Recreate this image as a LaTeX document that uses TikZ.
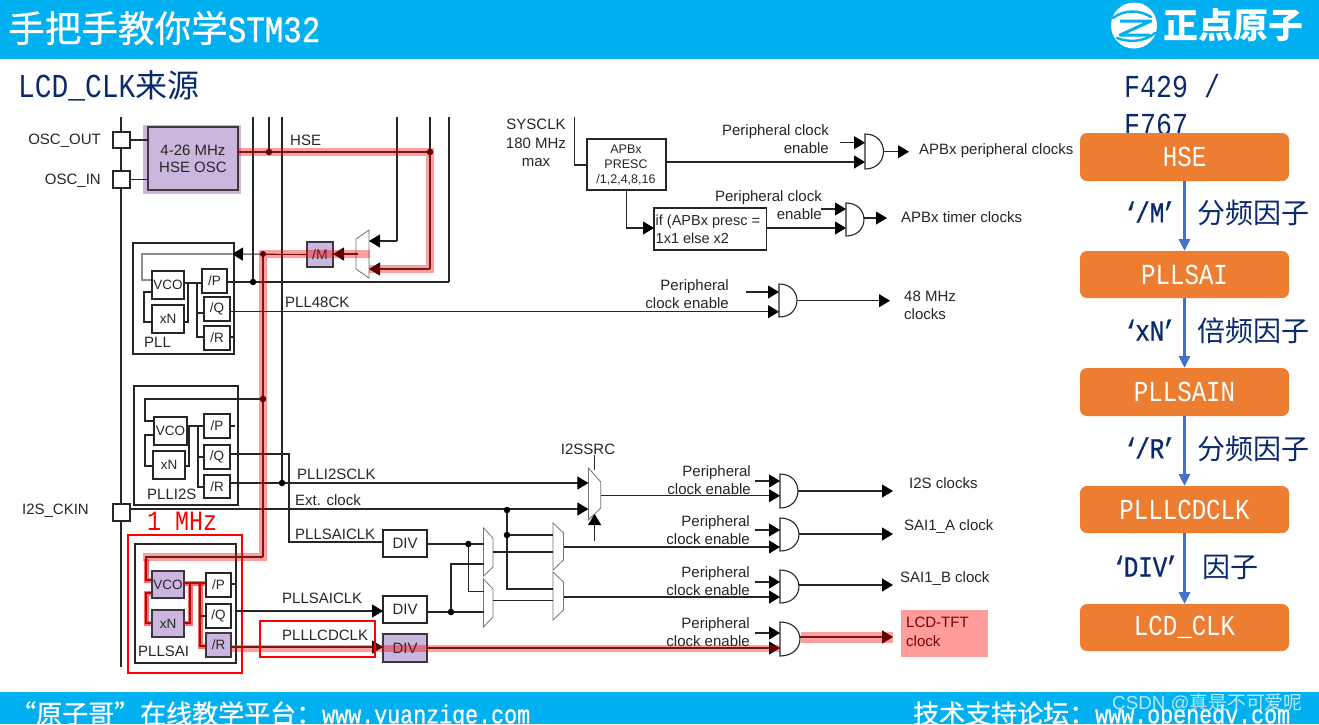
\documentclass[tikz,border=0pt]{standalone}
\usepackage{fontspec}
\usetikzlibrary{arrows.meta,calc}
\setmainfont{Liberation Sans}
\newfontfamily\cjk{Noto Sans CJK SC}
\newfontfamily\cjkm[FakeBold=0.7]{Noto Sans CJK SC}
\newfontfamily\mono[FakeStretch=0.833]{Liberation Mono}
\newfontfamily\monom[FakeStretch=0.833,FakeBold=0.8]{Liberation Mono}
\newcommand\fsz[1]{\fontsize{#1}{#1}\selectfont}
\definecolor{bar}{HTML}{00B0F0}
\definecolor{navy}{HTML}{0B2A6B}
\definecolor{ink}{HTML}{262626}
\definecolor{purp}{HTML}{CBB6DD}
\definecolor{orng}{HTML}{ED7D31}
\definecolor{flow}{HTML}{4472C4}
\definecolor{pink}{HTML}{FF9C9C}
\tikzset{
  x=1pt,y=-1pt,
  conn/.style={draw=ink,line width=1.1pt},
  arr/.style={conn,-{Triangle[length=11pt,width=13pt,color=black]}},
  pale/.style={draw=black!45,line width=1.1pt},
  rbox/.style={draw=ink,line width=1.1pt,fill=white,inner sep=0pt,outer sep=0pt,text=ink,font=\fsz{15},align=center},
  pbox/.style={rbox,fill=purp,draw=black!70!purp},
  pin/.style={rbox},
  lbl/.style={inner sep=0pt,text=ink,font=\fsz{15},anchor=west,align=left},
  rlbl/.style={inner sep=0pt,text=ink,font=\fontsize{15}{18}\selectfont,anchor=east,align=right},
  dot/.style={circle,fill=black,inner sep=0pt,minimum size=6.5pt},
  halo/.style={draw=red,opacity=.38,line width=8pt,line join=miter},
  halos/.style={draw=red,opacity=.58,line width=5pt,line join=miter},
  redbox/.style={draw=red,line width=1.6pt,fill=none,inner sep=0pt,outer sep=0pt},
  step box/.style={fill=orng,rounded corners=7pt,inner sep=0pt,outer sep=0pt,text=white,font=\mono\fsz{29}},
  flowarr/.style={draw=flow,line width=3pt,-{Triangle[length=12pt,width=11pt]}},
  fact/.style={inner sep=0pt,text=navy,font=\monom\fsz{29},anchor=east},
  factc/.style={inner sep=0pt,text=navy,font=\cjk\fsz{28},anchor=west},
}
% box by corners
\newcommand\bx[7][rbox]{\node[#1,minimum width={(#5-#3)*1pt},minimum height={(#6-#4)*1pt}] (#2) at ({(#3+#5)/2},{(#4+#6)/2}) {#7};}
% AND gate: name, x, top, bottom, width; defines name-w (left edge, mid)
\newcommand\gate[5]{\draw[conn,fill=white] (#2,#3) .. controls ({#2+1.33*#5},#3) and ({#2+1.33*#5},#4) .. (#2,#4) -- cycle;
  \coordinate (#1w) at (#2,{(#3+#4)/2});\coordinate (#1e) at ({#2+#5},{(#3+#4)/2});}
% mux trapezoid: name, x1, x2, y1, y2, y3, y4
\newcommand\mux[7]{\draw[draw=black!55,line width=.8pt,fill=white] (#2,#4) -- (#3,#5) -- (#3,#6) -- (#2,#7) -- cycle;
  \coordinate (#1w) at (#2,{(#4+#7)/2});\coordinate (#1e) at (#3,{(#4+#7)/2});}
\begin{document}
\begin{tikzpicture}
\useasboundingbox (0,0) rectangle (1319,724);
\clip (0,0) rectangle (1319,724);
\fill[white] (0,0) rectangle (1319,724);
% header / footer
\fill[bar] (0,0) rectangle (1319,59);
\fill[bar] (0,692) rectangle (1319,724);
\node[inner sep=0pt,anchor=west,text=white] (title) at (8,28) {{\cjkm\fsz{36.6}手把手教你学}{\monom\fsz{37}STM32}};
\node[inner sep=0pt,anchor=west,text=navy] (sub) at (18,86) {{\mono\fsz{33.5}LCD\_CLK}{\cjk\fsz{32}来源}};
\node[inner sep=0pt,anchor=west,text=white,font=\bfseries\fsz{35}] (brand) at (1163,25) {\cjk 正点原子};
\fill[white] (1134,25.5) circle (23);
\draw[bar,line width=2.4pt,line cap=round] (1113,18) .. controls (1125,9) and (1140,10) .. (1151,17);
\draw[bar,line width=3pt,line join=round] (1120,21) -- (1151,21) -- (1120,35) -- (1150,35);
\draw[bar,line width=2.4pt,line cap=round] (1117,38) .. controls (1127,42) and (1143,43) .. (1155,33);
\node[inner sep=0pt,anchor=west,text=white,font=\fsz{26}] (footl) at (10,715) {{\cjkm “原子哥”在线教学平台：}{\monom www.yuanzige.com}};
\node[inner sep=0pt,anchor=west,text=white,font=\fsz{26}] (footr) at (913,715) {{\cjkm 技术支持论坛：}{\monom www.openedv.com}};
\node[inner sep=0pt,anchor=west,text=white!72!bar,font=\fsz{18.8}] (mark) at (1112,703) {CSDN @{\cjk 真是不可爱呢}};

% right column
\node[inner sep=0pt,anchor=west,text=navy,font=\mono\fsz{32}] (f1) at (1124,86) {F429 /};
\node[inner sep=0pt,anchor=west,text=navy,font=\mono\fsz{32}] (f2) at (1124,125) {F767};
\bx[step box]{s1}{1080}{133}{1289}{181}{HSE}
\bx[step box]{s2}{1080}{251}{1289}{298}{PLLSAI}
\bx[step box]{s3}{1080}{368}{1289}{416}{PLLSAIN}
\bx[step box]{s4}{1080}{486}{1289}{533}{PLLLCDCLK}
\bx[step box]{s5}{1080}{604}{1289}{651}{LCD\_CLK}
\draw[flowarr] (s1) -- (s2);
\draw[flowarr] (s2) -- (s3);
\draw[flowarr] (s3) -- (s4);
\draw[flowarr] (s4) -- (s5);
\node[fact] (t1) at (1176,212) {‘\kern-3pt/M\kern-3pt’};
\node[factc] (c1) at (1197,213) {分频因子};
\node[fact] (t2) at (1176,330) {‘\kern-3pt xN\kern-3pt’};
\node[factc] (c2) at (1197,331) {倍频因子};
\node[fact] (t3) at (1176,448) {‘\kern-3pt/R\kern-3pt’};
\node[factc] (c3) at (1197,449) {分频因子};
\node[fact] (t4) at (1179,566) {‘\kern-3pt DIV\kern-3pt’};
\node[factc] (c4) at (1202,567) {因子};

% --- left bus, pins
\coordinate (bustop) at (121,117);
\coordinate (busend) at (121,667);
\draw[conn] (bustop) -- (busend);
\bx[pin]{oscout}{113}{132}{130}{148}{}
\bx[pin]{oscin}{113}{171}{130}{188}{}
\bx[pin]{ickin}{113}{504}{130}{521}{}
\node[lbl,anchor=east] (loscout) at (101,141) {OSC\_OUT};
\node[lbl,anchor=east] (loscin) at (101,180.5) {OSC\_IN};
\node[lbl,anchor=east] (lickin) at (89,511) {I2S\_CKIN};

% top vertical lines
\coordinate (v1t) at (253,117); \coordinate (jP) at (253,282);
\coordinate (v2t) at (269,117); \coordinate (jH) at (269,152);
\coordinate (v3t) at (282,117); \coordinate (jI) at (282,483);
\coordinate (v4t) at (397,117); \coordinate (v4b) at (397,241);
\coordinate (v5t) at (430,117); \coordinate (v5b) at (430,269); \coordinate (jE) at (430,152);
\coordinate (v6t) at (449,117); \coordinate (v6b) at (449,282);
\draw[conn] (v1t) -- (jP);
\draw[conn] (v2t) -- (jH);
\draw[conn] (v3t) -- (jI);
\draw[conn] (v4t) -- (v4b);
\draw[conn] (v5t) -- (v5b);
\draw[conn] (v6t) -- (v6b);

% HSE
\fill[purp] (143,125) rectangle (241,194);
\bx[pbox]{hse}{148}{127}{238}{190}{4-26 MHz\\[2pt]HSE OSC}
\draw[conn] (oscout) -- (oscout -| hse.west);
\draw[conn] (oscin) -- (oscin -| hse.west);
\draw[conn] (hse.east |- jE) -- (jE);
\node[lbl] (lhse) at (290,140) {HSE};
\node[dot] at (jH) {};
\node[dot] at (jE) {};

% mux M
\mux{mm}{356}{369}{239}{230}{278}{269}
\draw[arr] (v4b) -- (369,241);
\draw[arr] (v5b) -- (369,269);
\bx[pbox]{divm}{307}{242}{333}{267}{\fsz{14}/M}
\coordinate (mout) at (358,254);
\draw[arr] (mout) -- (divm.east |- mout);
\coordinate (jM) at (263,254);
\coordinate (jM2) at (263,399);
\coordinate (jM3) at (263,557);
\draw[conn] (jM) -- (jM3);

% PLL
\bx[rbox]{pll}{133}{243}{234}{354}{}
\coordinate (pf1) at (142,254);\coordinate (pf2) at (142,280);
\draw[arr] (divm.west) -- (232,254);
\draw[pale] (232,254) -- (pf1) -- (pf2) -- (152,280);
\bx[rbox]{vcoa}{152}{271}{184}{299}{\fsz{13.5}VCO}
\bx[rbox]{xna}{152}{305}{184}{333}{\fsz{13.5}xN}
\bx[rbox]{pa}{202}{269}{227}{293}{\fsz{13.5}/P}
\bx[rbox]{qa}{204}{297}{230}{321}{\fsz{13.5}/Q}
\bx[rbox]{ra}{204}{326}{230}{350}{\fsz{13.5}/R}
\draw[conn] (vcoa.west |- 0,292) -| (144,322) -- (xna.west |- 0,322);
\draw[conn] (vcoa.east |- 0,283) -- (pa.west |- 0,283);
\draw[conn] (188,283) |- (xna.east |- 0,322);
\draw[conn] (197,283) |- (ra.west |- 0,337);
\draw[conn] (197,313) -- (qa.west |- 0,313);
\draw[conn] (ra.east |- 0,337) -- (234,337);
\draw[conn] (pa.east |- 0,282) -- (v6b);
\node[dot] at (jP) {};
\node[dot,minimum size=6pt] (dM) at (jM) {};
\node[lbl] (lpll) at (144,342) {PLL};
\node[lbl] (l48) at (285,302) {PLL48CK};

% PLLI2S
\bx[rbox]{i2s}{134}{386}{238}{505}{}
\draw[conn] (jM2) -| (145,421) -- (154,421);
\bx[rbox]{vcob}{154}{417}{187}{445}{\fsz{13.5}VCO}
\bx[rbox]{xnb}{153}{451}{185}{479}{\fsz{13.5}xN}
\bx[rbox]{pb}{204}{414}{230}{438}{\fsz{13.5}/P}
\bx[rbox]{qb}{204}{445}{230}{469}{\fsz{13.5}/Q}
\bx[rbox]{rb}{204}{475}{230}{498}{\fsz{13.5}/R}
\draw[conn] (vcob.west |- 0,435) -| (145,466) -- (xnb.west |- 0,466);
\draw[conn] (vcob.east |- 0,426) -- (pb.west |- 0,426);
\draw[conn] (189,426) |- (xnb.east |- 0,466);
\draw[conn] (198,426) |- (rb.west |- 0,487);
\draw[conn] (198,457) -- (qb.west |- 0,457);
\draw[conn] (pb.east |- 0,426) -- (235,426);
\node[lbl] (li2s) at (147,494) {PLLI2S};
\node[dot] at (jM2) {};
\node[lbl] (lci2s) at (297,474) {PLLI2SCLK};
\node[lbl] (lext) at (295,500) {Ext. clock};
\node[lbl] (lsai0) at (295,534) {PLLSAICLK};

% I2SSRC mux
\node[lbl,anchor=center] (li2ssrc) at (588,449) {I2SSRC};
\coordinate (sel1) at (594.6,455); \coordinate (sel2) at (594.6,541);
\draw[conn] (sel1) -- (594.6,470);
\mux{mi}{588.4}{600.7}{468}{482}{508}{520}
\draw[arr] (sel2) -- (594.6,514);
\coordinate (ir) at (rb.east |- 0,483);
\draw[arr] (ir) -- (588.4,483);
\draw[arr] (ickin.east |- 0,509) -- (588.4,509);
\node[dot] at (jI) {};
\coordinate (jX) at (507,510);

% DIVs
\bx[rbox]{div1}{383}{530}{427}{557}{DIV}
\bx[rbox]{div2}{383}{596}{427}{623}{DIV}
\bx[pbox]{div3}{383}{634}{427}{662}{DIV}
\draw[conn] (qb.east |- 0,454) -| (289,542) -- (div1.west |- 0,542);

% PLLSAI
\bx[redbox]{rb1}{128}{535}{242}{673}{}
\bx[rbox]{sai}{135}{544}{236}{663}{}
\bx[pbox]{vcoc}{152}{571}{184}{598}{\fsz{13.5}VCO}
\bx[pbox]{xnc}{152}{610}{184}{637}{\fsz{13.5}xN}
\bx[rbox]{pc}{206}{573}{231}{597}{\fsz{13.5}/P}
\bx[rbox]{qc}{206}{604}{231}{628}{\fsz{13.5}/Q}
\bx[pbox]{rc}{206}{633}{231}{657}{\fsz{13.5}/R}
\node[lbl] (lsai) at (138,651) {PLLSAI};
\draw[conn] (jM3) -| (146,580) -- (vcoc.west |- 0,580);
\draw[conn] (vcoc.west |- 0,593) -| (146,623) -- (xnc.west |- 0,623);
\draw[conn] (vcoc.east |- 0,583) -- (pc.west |- 0,583);
\draw[conn] (190,583) |- (xnc.east |- 0,623);
\draw[conn] (200,583) |- (rc.west |- 0,646);
\draw[conn] (200,616) -- (qc.west |- 0,616);
\draw[conn] (pc.east |- 0,584) -- (236,584);
\draw[arr] (237,611) -- (div2.west |- 0,611);
\draw[arr] (rc.east |- 0,647) -- (div3.west |- 0,647);
\node[lbl] (lsai2) at (282,598) {PLLSAICLK};
\node[lbl] (llcd) at (282,635) {PLLLCDCLK};
\node[inner sep=0pt,anchor=west,text=red,font=\mono\fsz{28}] (mhz) at (147,521) {1 MHz};

% SAI muxes
\mux{ma}{483.5}{493}{528}{538}{567}{576}
\mux{mb}{553}{563.5}{523}{533}{560}{570}
\mux{mc}{483.5}{493}{579}{589}{617}{627}
\mux{md}{553}{563.5}{572}{582}{610}{620}
\coordinate (jD1) at (468.4,544);
\coordinate (jD2) at (451,612);
\coordinate (jX2) at (507,535);
\draw[conn] (div1.east |- jD1) -- (483.5,544);
\draw[conn] (jD1) |- (483.5,591.7);
\draw[conn] (div2.east |- jD2) -- (483.5,612);
\draw[conn] (jD2) |- (483.5,564);
\draw[conn] (493,552) -- (553,552);
\draw[conn] (493,600.7) -- (553,600.7);
\draw[conn] (jX) |- (553,589);
\draw[conn] (jX2) -- (553,535);
\node[dot] at (jD1) {};
\node[dot] at (jD2) {};
\node[dot] at (jX) {};
\node[dot] at (jX2) {};

% gates right
\gate{g1}{865}{134}{169}{18.5}
\gate{g2}{846}{203}{236}{18}
\gate{g3}{779}{284}{317}{18}
\gate{g4}{780}{474}{508}{18}
\gate{g5}{780}{518}{551}{19}
\gate{g6}{780}{570}{603}{19}
\gate{g7}{780}{622}{656}{20}
% APB
\node[inner sep=0pt,text=ink,font=\fontsize{15}{18.4}\selectfont,align=center] (lsysb) at (536,143) {SYSCLK\\180 MHz\\max};
\bx[rbox]{presc}{587}{139}{666}{190}{}
\node[inner sep=0pt,text=ink,font=\fontsize{12.5}{15}\selectfont,align=center] (lpresc) at (626,165) {APBx\\PRESC\\/1,2,4,8,16};
\coordinate (sys) at (574.6,117);
\draw[conn] (sys) |- (presc.west |- 0,165);
\draw[arr] (presc.east |- 0,162) -- (865,162);
\coordinate (en1) at (840,142.7);
\draw[arr] (en1) -- (en1 -| g1w);
\coordinate (o1) at (909,151.7);
\draw[arr] (o1 -| g1e) -- (o1);
\node[rlbl] (lp1) at (829,139.5) {Peripheral clock\\enable};
\node[lbl] (lo1) at (919,151) {APBx peripheral clocks};
\bx[rbox]{ifb}{654}{208}{766.6}{250}{}
\node[inner sep=0pt,text=ink,font=\fontsize{14.5}{18}\selectfont,align=left,anchor=west] (lif) at (655.5,229) {if (APBx presc =\\1x1 else x2};
\draw[arr] (presc.south) |- (ifb.west |- 0,228);
\draw[arr] (ifb.east |- 0,228) -- (846,228);
\coordinate (en2) at (821,209);
\draw[arr] (en2) -- (en2 -| g2w);
\coordinate (o2) at (887,218);
\draw[arr] (o2 -| g2e) -- (o2);
\node[rlbl] (lp2) at (822,205.5) {Peripheral clock\\enable};
\node[lbl] (lo2) at (901,217.5) {APBx timer clocks};
\coordinate (en3) at (745.5,292);
\draw[arr] (en3) -- (en3 -| g3w);
\draw[arr] (qa.east |- 0,311.7) -- (779,311.7);
\coordinate (o3) at (890,300.7);
\draw[arr] (o3 -| g3e) -- (o3);
\node[rlbl] (lp3) at (729,294) {Peripheral\\clock enable};
\node[inner sep=0pt,text=ink,font=\fontsize{15}{18}\selectfont,align=left,anchor=west] (lo3) at (904,305) {48 MHz\\clocks};
% lower gates
\draw[arr] (600.7,495.7) -- (780,495.7);
\coordinate (en4) at (755,481);
\draw[arr] (en4) -- (en4 -| g4w);
\coordinate (o4) at (893,491);
\draw[arr] (o4 -| g4e) -- (o4);
\node[rlbl] (lp4) at (751,480) {Peripheral\\clock enable};
\node[lbl] (lo4) at (909,483) {I2S clocks};
\draw[arr] (563.5,547) -- (780,547);
\coordinate (en5) at (755,530);
\draw[arr] (en5) -- (en5 -| g5w);
\coordinate (o5) at (893,534);
\draw[arr] (o5 -| g5e) -- (o5);
\node[rlbl] (lp5) at (750,530) {Peripheral\\clock enable};
\node[lbl] (lo5) at (904,527) {SAI1\_A clock};
\draw[arr] (563.5,597) -- (780,597);
\coordinate (en6) at (755,582);
\draw[arr] (en6) -- (en6 -| g6w);
\coordinate (o6) at (893,585);
\draw[arr] (o6 -| g6e) -- (o6);
\node[rlbl] (lp6) at (750,581) {Peripheral\\clock enable};
\node[lbl] (lo6) at (900,579) {SAI1\_B clock};
\draw[arr] (div3.east |- 0,648) -- (780,648);
\coordinate (en7) at (755,633);
\draw[arr] (en7) -- (en7 -| g7w);
\fill[pink] (901,610) rectangle (988,657);
\coordinate (o7) at (893,637);
\draw[arr] (o7 -| g7e) -- (o7);
\node[rlbl] (lp7) at (750,632) {Peripheral\\clock enable};
\node[inner sep=0pt,text=red!50!black,font=\fontsize{15}{19}\selectfont,align=left,anchor=west] (lo7) at (906,632) {LCD-TFT\\clock};

% red highlights
\draw[halo] (238,152) -- (430,152) -- (430,269) -- (369,269);
\draw[halo] (370,254) -- (263,254) -- (263,557) -- (143,557);
\draw[halos] (146,559) -- (146,580) -- (152,580);
\draw[halos] (152,593) -- (146,593) -- (146,623) -- (152,623);
\draw[halos] (184,623) -- (190,623) -- (190,583) -- (184,583) -- (206,583);
\draw[halos] (200,583) -- (200,646) -- (206,646);
\draw[halo,line width=7pt] (231,648) -- (780,648);
\draw[halo,line width=11pt] (801,637) -- (893,637);
\bx[redbox]{rb2}{260}{621}{375}{657}{}
\end{tikzpicture}
\end{document}
